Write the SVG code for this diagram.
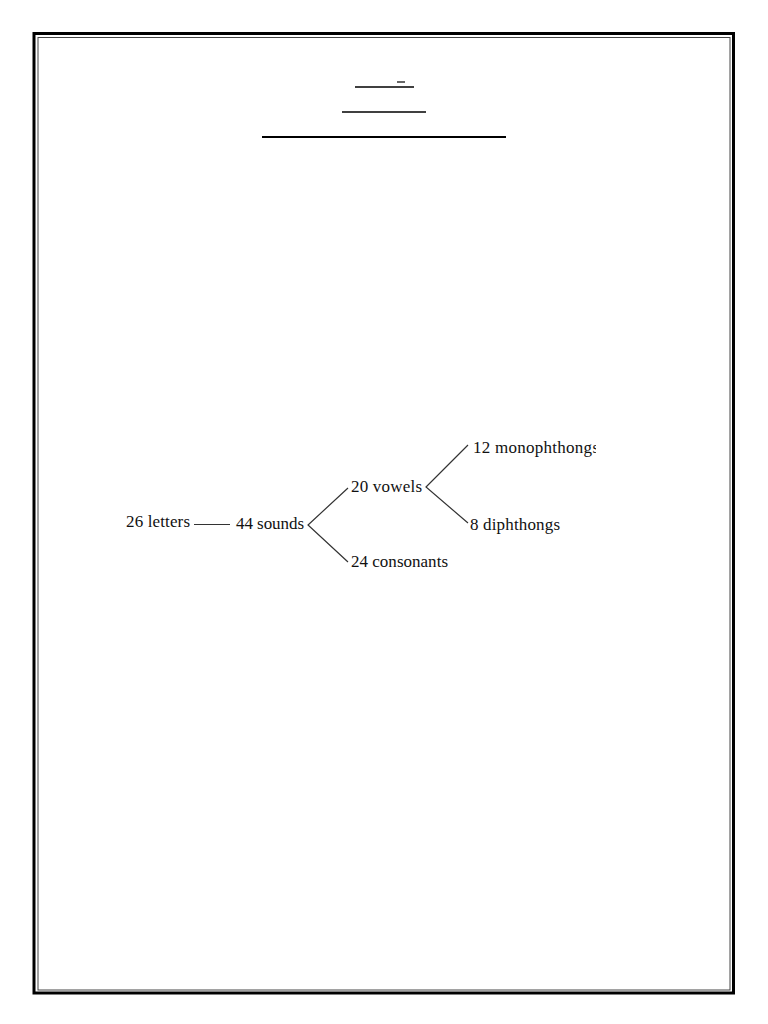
<svg xmlns="http://www.w3.org/2000/svg" width="768" height="1024" viewBox="0 0 768 1024">
<style>
.t{font-family:"Liberation Serif","Times New Roman",serif;font-size:17px;fill:#111}
.c{stroke:#333;stroke-width:1.2;fill:none}
.h{stroke:#000;fill:none}
</style>
<defs><clipPath id="clipR"><rect x="0" y="0" width="596" height="1024"/></clipPath></defs>
<rect width="768" height="1024" fill="#fff"/>
<g id="frame">
<rect x="34" y="33.5" width="699.5" height="959.5" fill="none" stroke="#000" stroke-width="3"/>
<rect x="38" y="37.5" width="692" height="952.5" fill="none" stroke="#444" stroke-width="1"/>
</g>
<g id="header">
<line class="h" x1="355" y1="87" x2="414" y2="87" stroke-width="1.6"/>
<line class="h" x1="397" y1="82" x2="405" y2="82" stroke-width="1.2"/>
<line class="h" x1="342" y1="112" x2="426" y2="112" stroke-width="1.6"/>
<line class="h" x1="262" y1="137" x2="506" y2="137" stroke-width="2"/>
</g>
<g id="connectors">
<line class="c" x1="194" y1="524.5" x2="230" y2="524.5"/>
<polyline class="c" points="348,488 308,525 348,562"/>
<polyline class="c" points="468,445 426,487 468,523"/>
</g>
<g id="n-letters"><text class="t" x="126" y="527" textLength="64" lengthAdjust="spacing">26 letters</text></g>
<g id="n-sounds"><text class="t" x="236" y="529" textLength="68" lengthAdjust="spacing">44 sounds</text></g>
<g id="n-vowels"><text class="t" x="351" y="492" textLength="71" lengthAdjust="spacing">20 vowels</text></g>
<g id="n-consonants"><text class="t" x="351" y="567" textLength="97" lengthAdjust="spacing">24 consonants</text></g>
<g id="n-monophthongs" clip-path="url(#clipR)"><text class="t" x="473" y="453" textLength="126" lengthAdjust="spacing">12 monophthongs</text></g>
<g id="n-diphthongs"><text class="t" x="470" y="530" textLength="90" lengthAdjust="spacing">8 diphthongs</text></g>
</svg>
